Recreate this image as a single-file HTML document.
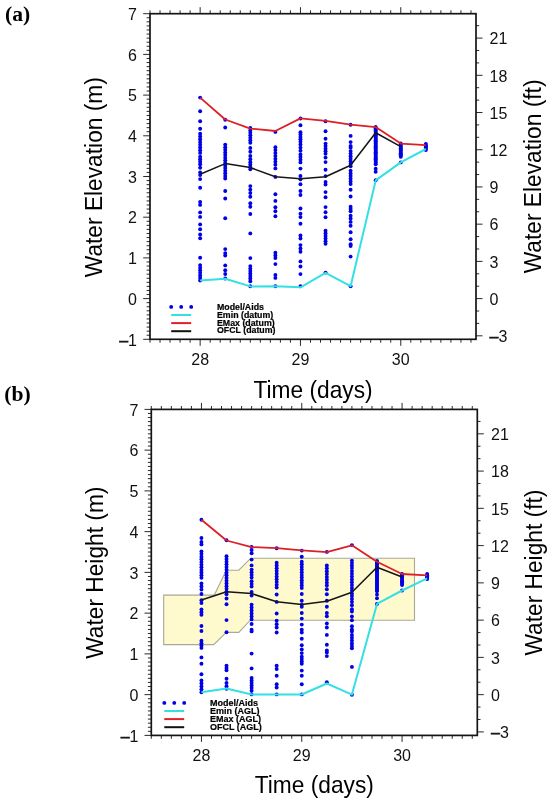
<!DOCTYPE html>
<html><head><meta charset="utf-8"><title>Water Elevation and Height</title>
<style>html,body{margin:0;padding:0;background:#fff;}svg{display:block;}</style></head>
<body><svg width="550" height="803" viewBox="0 0 550 803">
<rect width="550" height="803" fill="#fff"/>
<path d="M150 339.3h-6.8 M150 335.23h-3.4 M150 331.16h-3.4 M150 327.09h-3.4 M150 323.02h-3.4 M150 318.95h-3.4 M150 314.88h-3.4 M150 310.81h-3.4 M150 306.74h-3.4 M150 302.67h-3.4 M150 298.6h-6.8 M150 294.53h-3.4 M150 290.46h-3.4 M150 286.39h-3.4 M150 282.32h-3.4 M150 278.25h-3.4 M150 274.18h-3.4 M150 270.11h-3.4 M150 266.04h-3.4 M150 261.97h-3.4 M150 257.9h-6.8 M150 253.83h-3.4 M150 249.76h-3.4 M150 245.69h-3.4 M150 241.62h-3.4 M150 237.55h-3.4 M150 233.48h-3.4 M150 229.41h-3.4 M150 225.34h-3.4 M150 221.27h-3.4 M150 217.2h-6.8 M150 213.13h-3.4 M150 209.06h-3.4 M150 204.99h-3.4 M150 200.92h-3.4 M150 196.85h-3.4 M150 192.78h-3.4 M150 188.71h-3.4 M150 184.64h-3.4 M150 180.57h-3.4 M150 176.5h-6.8 M150 172.43h-3.4 M150 168.36h-3.4 M150 164.29h-3.4 M150 160.22h-3.4 M150 156.15h-3.4 M150 152.08h-3.4 M150 148.01h-3.4 M150 143.94h-3.4 M150 139.87h-3.4 M150 135.8h-6.8 M150 131.73h-3.4 M150 127.66h-3.4 M150 123.59h-3.4 M150 119.52h-3.4 M150 115.45h-3.4 M150 111.38h-3.4 M150 107.31h-3.4 M150 103.24h-3.4 M150 99.17h-3.4 M150 95.1h-6.8 M150 91.03h-3.4 M150 86.96h-3.4 M150 82.89h-3.4 M150 78.82h-3.4 M150 74.75h-3.4 M150 70.68h-3.4 M150 66.61h-3.4 M150 62.54h-3.4 M150 58.47h-3.4 M150 54.4h-6.8 M150 50.33h-3.4 M150 46.26h-3.4 M150 42.19h-3.4 M150 38.12h-3.4 M150 34.05h-3.4 M150 29.98h-3.4 M150 25.91h-3.4 M150 21.84h-3.4 M150 17.77h-3.4 M150 13.7h-6.8 M476 335.82h6.5 M476 323.41h3.2 M476 311.01h3.2 M476 298.6h6.5 M476 286.19h3.2 M476 273.79h3.2 M476 261.38h6.5 M476 248.98h3.2 M476 236.57h3.2 M476 224.17h6.5 M476 211.76h3.2 M476 199.36h3.2 M476 186.95h6.5 M476 174.55h3.2 M476 162.14h3.2 M476 149.74h6.5 M476 137.33h3.2 M476 124.92h3.2 M476 112.52h6.5 M476 100.11h3.2 M476 87.71h3.2 M476 75.3h6.5 M476 62.9h3.2 M476 50.49h3.2 M476 38.09h6.5 M476 25.68h3.2 M150 339.3v3.4 M150 13.7v-3.4 M160.03 339.3v3.4 M160.03 13.7v-3.4 M170.06 339.3v3.4 M170.06 13.7v-3.4 M180.09 339.3v3.4 M180.09 13.7v-3.4 M190.12 339.3v3.4 M190.12 13.7v-3.4 M200.15 339.3v6.5 M200.15 13.7v-6.5 M210.18 339.3v3.4 M210.18 13.7v-3.4 M220.22 339.3v3.4 M220.22 13.7v-3.4 M230.25 339.3v3.4 M230.25 13.7v-3.4 M240.28 339.3v3.4 M240.28 13.7v-3.4 M250.31 339.3v3.4 M250.31 13.7v-3.4 M260.34 339.3v3.4 M260.34 13.7v-3.4 M270.37 339.3v3.4 M270.37 13.7v-3.4 M280.4 339.3v3.4 M280.4 13.7v-3.4 M290.43 339.3v3.4 M290.43 13.7v-3.4 M300.46 339.3v6.5 M300.46 13.7v-6.5 M310.49 339.3v3.4 M310.49 13.7v-3.4 M320.52 339.3v3.4 M320.52 13.7v-3.4 M330.55 339.3v3.4 M330.55 13.7v-3.4 M340.58 339.3v3.4 M340.58 13.7v-3.4 M350.62 339.3v3.4 M350.62 13.7v-3.4 M360.65 339.3v3.4 M360.65 13.7v-3.4 M370.68 339.3v3.4 M370.68 13.7v-3.4 M380.71 339.3v3.4 M380.71 13.7v-3.4 M390.74 339.3v3.4 M390.74 13.7v-3.4 M400.77 339.3v6.5 M400.77 13.7v-6.5 M410.8 339.3v3.4 M410.8 13.7v-3.4 M420.83 339.3v3.4 M420.83 13.7v-3.4 M430.86 339.3v3.4 M430.86 13.7v-3.4 M440.89 339.3v3.4 M440.89 13.7v-3.4 M450.92 339.3v3.4 M450.92 13.7v-3.4 M460.95 339.3v3.4 M460.95 13.7v-3.4 M470.98 339.3v3.4 M470.98 13.7v-3.4" stroke="#2a2a2a" stroke-width="1.0" fill="none"/>
<g font-family='"Liberation Sans", Arial, Helvetica, sans-serif' font-size="16" fill="#111"><text x="137" y="345.5" text-anchor="end"><tspan stroke="#111" stroke-width="0.5">–</tspan>1</text><text x="137" y="304.8" text-anchor="end">0</text><text x="137" y="264.1" text-anchor="end">1</text><text x="137" y="223.4" text-anchor="end">2</text><text x="137" y="182.7" text-anchor="end">3</text><text x="137" y="142" text-anchor="end">4</text><text x="137" y="101.3" text-anchor="end">5</text><text x="137" y="60.6" text-anchor="end">6</text><text x="137" y="19.9" text-anchor="end">7</text><text x="489.6" y="342.02"><tspan stroke="#111" stroke-width="0.5">–</tspan>3</text><text x="489.6" y="304.8">0</text><text x="489.6" y="267.58">3</text><text x="489.6" y="230.37">6</text><text x="489.6" y="193.15">9</text><text x="489.6" y="155.94">12</text><text x="489.6" y="118.72">15</text><text x="489.6" y="81.5">18</text><text x="489.6" y="44.29">21</text><text x="200.15" y="364.5" text-anchor="middle">28</text><text x="300.46" y="364.5" text-anchor="middle">29</text><text x="400.77" y="364.5" text-anchor="middle">30</text></g>
<g font-family='"Liberation Sans", Arial, Helvetica, sans-serif' font-size="22.75" fill="#000"><text transform="translate(313 397.5) scale(1 1.055)" text-anchor="middle">Time (days)</text><text transform="translate(102.3 177.2) rotate(-90) scale(1 1.055)" text-anchor="middle">Water Elevation (m)</text><text transform="translate(540.6 176.4) rotate(-90) scale(1 1.055)" text-anchor="middle">Water Elevation (ft)</text></g>
<text x="5" y="20.9" font-family='"Liberation Serif", "Times New Roman", serif' font-weight="bold" font-size="21.6" fill="#000">(a)</text>
<g fill="#0000E6"><circle cx="200.15" cy="97.6" r="1.95"/><circle cx="200.15" cy="111.2" r="1.95"/><circle cx="200.15" cy="121.2" r="1.95"/><circle cx="200.15" cy="128.7" r="1.95"/><circle cx="200.15" cy="133.7" r="1.95"/><circle cx="200.15" cy="136.44" r="1.95"/><circle cx="200.15" cy="139.19" r="1.95"/><circle cx="200.15" cy="141.93" r="1.95"/><circle cx="200.15" cy="144.67" r="1.95"/><circle cx="200.15" cy="147.41" r="1.95"/><circle cx="200.15" cy="150.16" r="1.95"/><circle cx="200.15" cy="152.9" r="1.95"/><circle cx="200.15" cy="156.8" r="1.95"/><circle cx="200.15" cy="159.27" r="1.95"/><circle cx="200.15" cy="161.73" r="1.95"/><circle cx="200.15" cy="164.2" r="1.95"/><circle cx="200.15" cy="167.7" r="1.95"/><circle cx="200.15" cy="172.5" r="1.95"/><circle cx="200.15" cy="175.1" r="1.95"/><circle cx="200.15" cy="179.1" r="1.95"/><circle cx="200.15" cy="187.8" r="1.95"/><circle cx="200.15" cy="202" r="1.95"/><circle cx="200.15" cy="204.9" r="1.95"/><circle cx="200.15" cy="212.4" r="1.95"/><circle cx="200.15" cy="216.9" r="1.95"/><circle cx="200.15" cy="224.4" r="1.95"/><circle cx="200.15" cy="229.2" r="1.95"/><circle cx="200.15" cy="234.5" r="1.95"/><circle cx="200.15" cy="238.2" r="1.95"/><circle cx="200.15" cy="257.8" r="1.95"/><circle cx="200.15" cy="265.1" r="1.95"/><circle cx="200.15" cy="267.68" r="1.95"/><circle cx="200.15" cy="270.27" r="1.95"/><circle cx="200.15" cy="272.85" r="1.95"/><circle cx="200.15" cy="275.43" r="1.95"/><circle cx="200.15" cy="278.02" r="1.95"/><circle cx="200.15" cy="280.6" r="1.95"/><circle cx="225.23" cy="119.8" r="1.95"/><circle cx="225.23" cy="127.5" r="1.95"/><circle cx="225.23" cy="144.6" r="1.95"/><circle cx="225.23" cy="147.21" r="1.95"/><circle cx="225.23" cy="149.82" r="1.95"/><circle cx="225.23" cy="152.42" r="1.95"/><circle cx="225.23" cy="155.03" r="1.95"/><circle cx="225.23" cy="157.64" r="1.95"/><circle cx="225.23" cy="160.25" r="1.95"/><circle cx="225.23" cy="162.85" r="1.95"/><circle cx="225.23" cy="165.46" r="1.95"/><circle cx="225.23" cy="168.07" r="1.95"/><circle cx="225.23" cy="170.68" r="1.95"/><circle cx="225.23" cy="173.28" r="1.95"/><circle cx="225.23" cy="175.89" r="1.95"/><circle cx="225.23" cy="178.5" r="1.95"/><circle cx="225.23" cy="191" r="1.95"/><circle cx="225.23" cy="198.5" r="1.95"/><circle cx="225.23" cy="218.3" r="1.95"/><circle cx="225.23" cy="249.1" r="1.95"/><circle cx="225.23" cy="253.1" r="1.95"/><circle cx="225.23" cy="255.5" r="1.95"/><circle cx="225.23" cy="265.4" r="1.95"/><circle cx="225.23" cy="270.3" r="1.95"/><circle cx="225.23" cy="274" r="1.95"/><circle cx="225.23" cy="278.5" r="1.95"/><circle cx="250.31" cy="127.9" r="1.95"/><circle cx="250.31" cy="130.38" r="1.95"/><circle cx="250.31" cy="132.87" r="1.95"/><circle cx="250.31" cy="135.35" r="1.95"/><circle cx="250.31" cy="137.83" r="1.95"/><circle cx="250.31" cy="140.32" r="1.95"/><circle cx="250.31" cy="142.8" r="1.95"/><circle cx="250.31" cy="148" r="1.95"/><circle cx="250.31" cy="151.7" r="1.95"/><circle cx="250.31" cy="156" r="1.95"/><circle cx="250.31" cy="159.2" r="1.95"/><circle cx="250.31" cy="162.3" r="1.95"/><circle cx="250.31" cy="164.6" r="1.95"/><circle cx="250.31" cy="166.9" r="1.95"/><circle cx="250.31" cy="169.2" r="1.95"/><circle cx="250.31" cy="186.1" r="1.95"/><circle cx="250.31" cy="189.6" r="1.95"/><circle cx="250.31" cy="193" r="1.95"/><circle cx="250.31" cy="196.7" r="1.95"/><circle cx="250.31" cy="203.2" r="1.95"/><circle cx="250.31" cy="206.7" r="1.95"/><circle cx="250.31" cy="214" r="1.95"/><circle cx="250.31" cy="233.4" r="1.95"/><circle cx="250.31" cy="258.1" r="1.95"/><circle cx="250.31" cy="266.1" r="1.95"/><circle cx="250.31" cy="268.58" r="1.95"/><circle cx="250.31" cy="271.06" r="1.95"/><circle cx="250.31" cy="273.54" r="1.95"/><circle cx="250.31" cy="276.02" r="1.95"/><circle cx="250.31" cy="278.5" r="1.95"/><circle cx="250.31" cy="281.3" r="1.95"/><circle cx="250.31" cy="286.3" r="1.95"/><circle cx="275.38" cy="131.9" r="1.95"/><circle cx="275.38" cy="147.2" r="1.95"/><circle cx="275.38" cy="150.12" r="1.95"/><circle cx="275.38" cy="153.03" r="1.95"/><circle cx="275.38" cy="155.95" r="1.95"/><circle cx="275.38" cy="158.87" r="1.95"/><circle cx="275.38" cy="161.78" r="1.95"/><circle cx="275.38" cy="164.7" r="1.95"/><circle cx="275.38" cy="168.4" r="1.95"/><circle cx="275.38" cy="176.9" r="1.95"/><circle cx="275.38" cy="194.3" r="1.95"/><circle cx="275.38" cy="200.9" r="1.95"/><circle cx="275.38" cy="207.2" r="1.95"/><circle cx="275.38" cy="211.2" r="1.95"/><circle cx="275.38" cy="216.3" r="1.95"/><circle cx="275.38" cy="252.7" r="1.95"/><circle cx="275.38" cy="255.5" r="1.95"/><circle cx="275.38" cy="258.1" r="1.95"/><circle cx="275.38" cy="264.1" r="1.95"/><circle cx="275.38" cy="274.9" r="1.95"/><circle cx="275.38" cy="277.9" r="1.95"/><circle cx="275.38" cy="286.3" r="1.95"/><circle cx="300.46" cy="118.5" r="1.95"/><circle cx="300.46" cy="125.2" r="1.95"/><circle cx="300.46" cy="132.2" r="1.95"/><circle cx="300.46" cy="134.57" r="1.95"/><circle cx="300.46" cy="136.95" r="1.95"/><circle cx="300.46" cy="139.32" r="1.95"/><circle cx="300.46" cy="141.7" r="1.95"/><circle cx="300.46" cy="144.5" r="1.95"/><circle cx="300.46" cy="147.6" r="1.95"/><circle cx="300.46" cy="150.7" r="1.95"/><circle cx="300.46" cy="154.4" r="1.95"/><circle cx="300.46" cy="157.07" r="1.95"/><circle cx="300.46" cy="159.73" r="1.95"/><circle cx="300.46" cy="162.4" r="1.95"/><circle cx="300.46" cy="168.6" r="1.95"/><circle cx="300.46" cy="175.9" r="1.95"/><circle cx="300.46" cy="179.3" r="1.95"/><circle cx="300.46" cy="184.3" r="1.95"/><circle cx="300.46" cy="191" r="1.95"/><circle cx="300.46" cy="195" r="1.95"/><circle cx="300.46" cy="208.5" r="1.95"/><circle cx="300.46" cy="213.7" r="1.95"/><circle cx="300.46" cy="217.1" r="1.95"/><circle cx="300.46" cy="223.7" r="1.95"/><circle cx="300.46" cy="235.5" r="1.95"/><circle cx="300.46" cy="238.5" r="1.95"/><circle cx="300.46" cy="245.1" r="1.95"/><circle cx="300.46" cy="248.45" r="1.95"/><circle cx="300.46" cy="251.8" r="1.95"/><circle cx="300.46" cy="261.4" r="1.95"/><circle cx="300.46" cy="266.5" r="1.95"/><circle cx="300.46" cy="274.1" r="1.95"/><circle cx="300.46" cy="286.2" r="1.95"/><circle cx="325.54" cy="121.2" r="1.95"/><circle cx="325.54" cy="131.3" r="1.95"/><circle cx="325.54" cy="138.8" r="1.95"/><circle cx="325.54" cy="143.6" r="1.95"/><circle cx="325.54" cy="146.12" r="1.95"/><circle cx="325.54" cy="148.65" r="1.95"/><circle cx="325.54" cy="151.17" r="1.95"/><circle cx="325.54" cy="153.7" r="1.95"/><circle cx="325.54" cy="157.6" r="1.95"/><circle cx="325.54" cy="162.1" r="1.95"/><circle cx="325.54" cy="169.7" r="1.95"/><circle cx="325.54" cy="176.1" r="1.95"/><circle cx="325.54" cy="182" r="1.95"/><circle cx="325.54" cy="184.5" r="1.95"/><circle cx="325.54" cy="192.1" r="1.95"/><circle cx="325.54" cy="197.3" r="1.95"/><circle cx="325.54" cy="207.1" r="1.95"/><circle cx="325.54" cy="212.2" r="1.95"/><circle cx="325.54" cy="217.2" r="1.95"/><circle cx="325.54" cy="230.7" r="1.95"/><circle cx="325.54" cy="233.32" r="1.95"/><circle cx="325.54" cy="235.94" r="1.95"/><circle cx="325.54" cy="238.56" r="1.95"/><circle cx="325.54" cy="241.18" r="1.95"/><circle cx="325.54" cy="243.8" r="1.95"/><circle cx="325.54" cy="272.6" r="1.95"/><circle cx="350.62" cy="124.7" r="1.95"/><circle cx="350.62" cy="135.9" r="1.95"/><circle cx="350.62" cy="142.1" r="1.95"/><circle cx="350.62" cy="146" r="1.95"/><circle cx="350.62" cy="147.7" r="1.95"/><circle cx="350.62" cy="151.1" r="1.95"/><circle cx="350.62" cy="153.62" r="1.95"/><circle cx="350.62" cy="156.13" r="1.95"/><circle cx="350.62" cy="158.65" r="1.95"/><circle cx="350.62" cy="161.17" r="1.95"/><circle cx="350.62" cy="163.68" r="1.95"/><circle cx="350.62" cy="166.2" r="1.95"/><circle cx="350.62" cy="170.7" r="1.95"/><circle cx="350.62" cy="173.38" r="1.95"/><circle cx="350.62" cy="176.06" r="1.95"/><circle cx="350.62" cy="178.74" r="1.95"/><circle cx="350.62" cy="181.42" r="1.95"/><circle cx="350.62" cy="184.1" r="1.95"/><circle cx="350.62" cy="189.7" r="1.95"/><circle cx="350.62" cy="196.5" r="1.95"/><circle cx="350.62" cy="206.7" r="1.95"/><circle cx="350.62" cy="208.95" r="1.95"/><circle cx="350.62" cy="211.2" r="1.95"/><circle cx="350.62" cy="215.7" r="1.95"/><circle cx="350.62" cy="218.5" r="1.95"/><circle cx="350.62" cy="221.9" r="1.95"/><circle cx="350.62" cy="225.8" r="1.95"/><circle cx="350.62" cy="232.3" r="1.95"/><circle cx="350.62" cy="239.2" r="1.95"/><circle cx="350.62" cy="244.3" r="1.95"/><circle cx="350.62" cy="246" r="1.95"/><circle cx="350.62" cy="256.6" r="1.95"/><circle cx="350.62" cy="286.3" r="1.95"/><circle cx="375.69" cy="127" r="1.95"/><circle cx="375.69" cy="128.2" r="1.95"/><circle cx="375.69" cy="129.41" r="1.95"/><circle cx="375.69" cy="130.61" r="1.95"/><circle cx="375.69" cy="131.81" r="1.95"/><circle cx="375.69" cy="133.02" r="1.95"/><circle cx="375.69" cy="134.22" r="1.95"/><circle cx="375.69" cy="135.42" r="1.95"/><circle cx="375.69" cy="136.63" r="1.95"/><circle cx="375.69" cy="137.83" r="1.95"/><circle cx="375.69" cy="139.03" r="1.95"/><circle cx="375.69" cy="140.24" r="1.95"/><circle cx="375.69" cy="141.44" r="1.95"/><circle cx="375.69" cy="142.64" r="1.95"/><circle cx="375.69" cy="143.85" r="1.95"/><circle cx="375.69" cy="145.05" r="1.95"/><circle cx="375.69" cy="146.25" r="1.95"/><circle cx="375.69" cy="147.45" r="1.95"/><circle cx="375.69" cy="148.66" r="1.95"/><circle cx="375.69" cy="149.86" r="1.95"/><circle cx="375.69" cy="151.06" r="1.95"/><circle cx="375.69" cy="152.27" r="1.95"/><circle cx="375.69" cy="153.47" r="1.95"/><circle cx="375.69" cy="154.67" r="1.95"/><circle cx="375.69" cy="155.88" r="1.95"/><circle cx="375.69" cy="157.08" r="1.95"/><circle cx="375.69" cy="158.28" r="1.95"/><circle cx="375.69" cy="159.49" r="1.95"/><circle cx="375.69" cy="160.69" r="1.95"/><circle cx="375.69" cy="161.89" r="1.95"/><circle cx="375.69" cy="163.1" r="1.95"/><circle cx="375.69" cy="164.3" r="1.95"/><circle cx="375.69" cy="168.8" r="1.95"/><circle cx="375.69" cy="171.8" r="1.95"/><circle cx="375.69" cy="180.3" r="1.95"/><circle cx="400.77" cy="143.4" r="1.95"/><circle cx="400.77" cy="144.62" r="1.95"/><circle cx="400.77" cy="145.84" r="1.95"/><circle cx="400.77" cy="147.05" r="1.95"/><circle cx="400.77" cy="148.27" r="1.95"/><circle cx="400.77" cy="149.49" r="1.95"/><circle cx="400.77" cy="150.71" r="1.95"/><circle cx="400.77" cy="151.93" r="1.95"/><circle cx="400.77" cy="153.15" r="1.95"/><circle cx="400.77" cy="154.36" r="1.95"/><circle cx="400.77" cy="155.58" r="1.95"/><circle cx="400.77" cy="156.8" r="1.95"/><circle cx="400.77" cy="162.4" r="1.95"/><circle cx="425.85" cy="144" r="1.95"/><circle cx="425.85" cy="145.2" r="1.95"/><circle cx="425.85" cy="146.4" r="1.95"/><circle cx="425.85" cy="147.6" r="1.95"/><circle cx="425.85" cy="148.8" r="1.95"/><circle cx="425.85" cy="150" r="1.95"/></g>
<polyline points="200.15,280.4 225.23,278.7 250.31,286.4 275.38,286.3 300.46,287.3 325.54,272.9 350.62,286.2 375.69,180.4 400.77,162.4 425.85,149" fill="none" stroke="#33E0E4" stroke-width="2.0" stroke-linejoin="round"/>
<polyline points="200.15,97.6 225.23,119.5 250.31,128.6 275.38,131 300.46,118.4 325.54,120.9 350.62,124.7 375.69,127.1 400.77,143.6 425.85,145.2" fill="none" stroke="#DC2026" stroke-width="1.8" stroke-linejoin="round"/>
<polyline points="200.15,174.2 225.23,163.6 250.31,167.6 275.38,176.8 300.46,178.8 325.54,176.8 350.62,165.3 375.69,132.8 400.77,146.6" fill="none" stroke="#161616" stroke-width="1.55" stroke-linejoin="round"/>
<rect x="150" y="13.7" width="326" height="325.6" fill="none" stroke="#151515" stroke-width="1.7"/>
<g fill="#0000E6"><circle cx="171.2" cy="306.9" r="1.95"/><circle cx="181.2" cy="306.9" r="1.95"/><circle cx="191.2" cy="306.9" r="1.95"/></g>
<path d="M171.2 315h20" stroke="#33E0E4" stroke-width="2"/>
<path d="M171.2 323.1h20" stroke="#E0202A" stroke-width="2"/>
<path d="M171.2 331.2h20" stroke="#111111" stroke-width="2"/>
<g font-family='"Liberation Sans", Arial, Helvetica, sans-serif' font-weight="bold" font-size="8.8" fill="#000" stroke="#000" stroke-width="0.2"><text x="217" y="310.2">Model/Aids</text><text x="217" y="317.95">Emin (datum)</text><text x="217" y="325.7">EMax (datum)</text><text x="217" y="333.45">OFCL (datum)</text></g>
<polygon points="163.7,595.1 214.3,595.1 226.3,570.2 238.8,570.2 250.8,558.2 414.5,558.2 414.5,620.2 250.3,620.2 238.8,632.4 226.3,632.4 213.7,644.6 163.7,644.6" fill="#FFFACD" stroke="#A8A898" stroke-width="1.1"/>
<path d="M151.3 735.4h-6.8 M151.3 731.33h-3.4 M151.3 727.25h-3.4 M151.3 723.17h-3.4 M151.3 719.1h-3.4 M151.3 715.02h-3.4 M151.3 710.95h-3.4 M151.3 706.88h-3.4 M151.3 702.8h-3.4 M151.3 698.72h-3.4 M151.3 694.65h-6.8 M151.3 690.58h-3.4 M151.3 686.5h-3.4 M151.3 682.42h-3.4 M151.3 678.35h-3.4 M151.3 674.27h-3.4 M151.3 670.2h-3.4 M151.3 666.12h-3.4 M151.3 662.05h-3.4 M151.3 657.97h-3.4 M151.3 653.9h-6.8 M151.3 649.83h-3.4 M151.3 645.75h-3.4 M151.3 641.67h-3.4 M151.3 637.6h-3.4 M151.3 633.52h-3.4 M151.3 629.45h-3.4 M151.3 625.38h-3.4 M151.3 621.3h-3.4 M151.3 617.22h-3.4 M151.3 613.15h-6.8 M151.3 609.08h-3.4 M151.3 605h-3.4 M151.3 600.92h-3.4 M151.3 596.85h-3.4 M151.3 592.77h-3.4 M151.3 588.7h-3.4 M151.3 584.62h-3.4 M151.3 580.55h-3.4 M151.3 576.47h-3.4 M151.3 572.4h-6.8 M151.3 568.32h-3.4 M151.3 564.25h-3.4 M151.3 560.17h-3.4 M151.3 556.1h-3.4 M151.3 552.02h-3.4 M151.3 547.95h-3.4 M151.3 543.88h-3.4 M151.3 539.8h-3.4 M151.3 535.72h-3.4 M151.3 531.65h-6.8 M151.3 527.57h-3.4 M151.3 523.5h-3.4 M151.3 519.42h-3.4 M151.3 515.35h-3.4 M151.3 511.27h-3.4 M151.3 507.2h-3.4 M151.3 503.12h-3.4 M151.3 499.05h-3.4 M151.3 494.97h-3.4 M151.3 490.9h-6.8 M151.3 486.82h-3.4 M151.3 482.75h-3.4 M151.3 478.67h-3.4 M151.3 474.6h-3.4 M151.3 470.52h-3.4 M151.3 466.45h-3.4 M151.3 462.38h-3.4 M151.3 458.3h-3.4 M151.3 454.22h-3.4 M151.3 450.15h-6.8 M151.3 446.07h-3.4 M151.3 442h-3.4 M151.3 437.92h-3.4 M151.3 433.85h-3.4 M151.3 429.77h-3.4 M151.3 425.7h-3.4 M151.3 421.62h-3.4 M151.3 417.55h-3.4 M151.3 413.47h-3.4 M151.3 409.4h-6.8 M477.3 731.91h6.5 M477.3 719.49h3.2 M477.3 707.07h3.2 M477.3 694.65h6.5 M477.3 682.23h3.2 M477.3 669.81h3.2 M477.3 657.39h6.5 M477.3 644.97h3.2 M477.3 632.55h3.2 M477.3 620.13h6.5 M477.3 607.71h3.2 M477.3 595.29h3.2 M477.3 582.86h6.5 M477.3 570.44h3.2 M477.3 558.02h3.2 M477.3 545.6h6.5 M477.3 533.18h3.2 M477.3 520.76h3.2 M477.3 508.34h6.5 M477.3 495.92h3.2 M477.3 483.5h3.2 M477.3 471.08h6.5 M477.3 458.66h3.2 M477.3 446.24h3.2 M477.3 433.82h6.5 M477.3 421.4h3.2 M151.3 735.4v3.4 M151.3 409.4v-3.4 M161.33 735.4v3.4 M161.33 409.4v-3.4 M171.36 735.4v3.4 M171.36 409.4v-3.4 M181.39 735.4v3.4 M181.39 409.4v-3.4 M191.42 735.4v3.4 M191.42 409.4v-3.4 M201.45 735.4v6.5 M201.45 409.4v-6.5 M211.48 735.4v3.4 M211.48 409.4v-3.4 M221.52 735.4v3.4 M221.52 409.4v-3.4 M231.55 735.4v3.4 M231.55 409.4v-3.4 M241.58 735.4v3.4 M241.58 409.4v-3.4 M251.61 735.4v3.4 M251.61 409.4v-3.4 M261.64 735.4v3.4 M261.64 409.4v-3.4 M271.67 735.4v3.4 M271.67 409.4v-3.4 M281.7 735.4v3.4 M281.7 409.4v-3.4 M291.73 735.4v3.4 M291.73 409.4v-3.4 M301.76 735.4v6.5 M301.76 409.4v-6.5 M311.79 735.4v3.4 M311.79 409.4v-3.4 M321.82 735.4v3.4 M321.82 409.4v-3.4 M331.85 735.4v3.4 M331.85 409.4v-3.4 M341.88 735.4v3.4 M341.88 409.4v-3.4 M351.92 735.4v3.4 M351.92 409.4v-3.4 M361.95 735.4v3.4 M361.95 409.4v-3.4 M371.98 735.4v3.4 M371.98 409.4v-3.4 M382.01 735.4v3.4 M382.01 409.4v-3.4 M392.04 735.4v3.4 M392.04 409.4v-3.4 M402.07 735.4v6.5 M402.07 409.4v-6.5 M412.1 735.4v3.4 M412.1 409.4v-3.4 M422.13 735.4v3.4 M422.13 409.4v-3.4 M432.16 735.4v3.4 M432.16 409.4v-3.4 M442.19 735.4v3.4 M442.19 409.4v-3.4 M452.22 735.4v3.4 M452.22 409.4v-3.4 M462.25 735.4v3.4 M462.25 409.4v-3.4 M472.28 735.4v3.4 M472.28 409.4v-3.4" stroke="#2a2a2a" stroke-width="1.0" fill="none"/>
<g font-family='"Liberation Sans", Arial, Helvetica, sans-serif' font-size="16" fill="#111"><text x="138.5" y="741.6" text-anchor="end"><tspan stroke="#111" stroke-width="0.5">–</tspan>1</text><text x="138.5" y="700.85" text-anchor="end">0</text><text x="138.5" y="660.1" text-anchor="end">1</text><text x="138.5" y="619.35" text-anchor="end">2</text><text x="138.5" y="578.6" text-anchor="end">3</text><text x="138.5" y="537.85" text-anchor="end">4</text><text x="138.5" y="497.1" text-anchor="end">5</text><text x="138.5" y="456.35" text-anchor="end">6</text><text x="138.5" y="415.6" text-anchor="end">7</text><text x="491" y="738.11"><tspan stroke="#111" stroke-width="0.5">–</tspan>3</text><text x="491" y="700.85">0</text><text x="491" y="663.59">3</text><text x="491" y="626.33">6</text><text x="491" y="589.06">9</text><text x="491" y="551.8">12</text><text x="491" y="514.54">15</text><text x="491" y="477.28">18</text><text x="491" y="440.02">21</text><text x="201.45" y="760.6" text-anchor="middle">28</text><text x="301.76" y="760.6" text-anchor="middle">29</text><text x="402.07" y="760.6" text-anchor="middle">30</text></g>
<g font-family='"Liberation Sans", Arial, Helvetica, sans-serif' font-size="22.75" fill="#000"><text transform="translate(314.3 793.2) scale(1 1.055)" text-anchor="middle">Time (days)</text><text transform="translate(103.1 572.7) rotate(-90) scale(1 1.055)" text-anchor="middle">Water Height (m)</text><text transform="translate(542.4 572.6) rotate(-90) scale(1 1.055)" text-anchor="middle">Water Height (ft)</text></g>
<text x="4.2" y="401.3" font-family='"Liberation Serif", "Times New Roman", serif' font-weight="bold" font-size="21.6" fill="#000">(b)</text>
<g fill="#0000E6"><circle cx="201.45" cy="519.7" r="1.95"/><circle cx="201.45" cy="538" r="1.95"/><circle cx="201.45" cy="541.9" r="1.95"/><circle cx="201.45" cy="544.4" r="1.95"/><circle cx="201.45" cy="551.4" r="1.95"/><circle cx="201.45" cy="554.04" r="1.95"/><circle cx="201.45" cy="556.68" r="1.95"/><circle cx="201.45" cy="559.32" r="1.95"/><circle cx="201.45" cy="561.96" r="1.95"/><circle cx="201.45" cy="564.6" r="1.95"/><circle cx="201.45" cy="567.24" r="1.95"/><circle cx="201.45" cy="569.88" r="1.95"/><circle cx="201.45" cy="572.52" r="1.95"/><circle cx="201.45" cy="575.16" r="1.95"/><circle cx="201.45" cy="577.8" r="1.95"/><circle cx="201.45" cy="583.4" r="1.95"/><circle cx="201.45" cy="586.5" r="1.95"/><circle cx="201.45" cy="589.6" r="1.95"/><circle cx="201.45" cy="594" r="1.95"/><circle cx="201.45" cy="600.2" r="1.95"/><circle cx="201.45" cy="603" r="1.95"/><circle cx="201.45" cy="609.5" r="1.95"/><circle cx="201.45" cy="612.15" r="1.95"/><circle cx="201.45" cy="614.8" r="1.95"/><circle cx="201.45" cy="626" r="1.95"/><circle cx="201.45" cy="631" r="1.95"/><circle cx="201.45" cy="640.8" r="1.95"/><circle cx="201.45" cy="643.17" r="1.95"/><circle cx="201.45" cy="645.53" r="1.95"/><circle cx="201.45" cy="647.9" r="1.95"/><circle cx="201.45" cy="657.4" r="1.95"/><circle cx="201.45" cy="663.7" r="1.95"/><circle cx="201.45" cy="674.3" r="1.95"/><circle cx="201.45" cy="680.5" r="1.95"/><circle cx="201.45" cy="683.45" r="1.95"/><circle cx="201.45" cy="686.4" r="1.95"/><circle cx="201.45" cy="689.35" r="1.95"/><circle cx="201.45" cy="692.3" r="1.95"/><circle cx="226.53" cy="540.3" r="1.95"/><circle cx="226.53" cy="556.2" r="1.95"/><circle cx="226.53" cy="558.92" r="1.95"/><circle cx="226.53" cy="561.64" r="1.95"/><circle cx="226.53" cy="564.36" r="1.95"/><circle cx="226.53" cy="567.09" r="1.95"/><circle cx="226.53" cy="569.81" r="1.95"/><circle cx="226.53" cy="572.53" r="1.95"/><circle cx="226.53" cy="575.25" r="1.95"/><circle cx="226.53" cy="577.97" r="1.95"/><circle cx="226.53" cy="580.69" r="1.95"/><circle cx="226.53" cy="583.41" r="1.95"/><circle cx="226.53" cy="586.14" r="1.95"/><circle cx="226.53" cy="588.86" r="1.95"/><circle cx="226.53" cy="591.58" r="1.95"/><circle cx="226.53" cy="594.3" r="1.95"/><circle cx="226.53" cy="598.5" r="1.95"/><circle cx="226.53" cy="604.3" r="1.95"/><circle cx="226.53" cy="620.1" r="1.95"/><circle cx="226.53" cy="632.2" r="1.95"/><circle cx="226.53" cy="665.6" r="1.95"/><circle cx="226.53" cy="668" r="1.95"/><circle cx="226.53" cy="670.3" r="1.95"/><circle cx="226.53" cy="678.8" r="1.95"/><circle cx="226.53" cy="683" r="1.95"/><circle cx="226.53" cy="686.2" r="1.95"/><circle cx="226.53" cy="688.8" r="1.95"/><circle cx="251.61" cy="546.9" r="1.95"/><circle cx="251.61" cy="550.1" r="1.95"/><circle cx="251.61" cy="553.2" r="1.95"/><circle cx="251.61" cy="559.6" r="1.95"/><circle cx="251.61" cy="565.4" r="1.95"/><circle cx="251.61" cy="569.6" r="1.95"/><circle cx="251.61" cy="572.25" r="1.95"/><circle cx="251.61" cy="574.9" r="1.95"/><circle cx="251.61" cy="577.6" r="1.95"/><circle cx="251.61" cy="581.3" r="1.95"/><circle cx="251.61" cy="583.95" r="1.95"/><circle cx="251.61" cy="586.6" r="1.95"/><circle cx="251.61" cy="591.9" r="1.95"/><circle cx="251.61" cy="595.6" r="1.95"/><circle cx="251.61" cy="604.6" r="1.95"/><circle cx="251.61" cy="607.56" r="1.95"/><circle cx="251.61" cy="610.52" r="1.95"/><circle cx="251.61" cy="613.48" r="1.95"/><circle cx="251.61" cy="616.44" r="1.95"/><circle cx="251.61" cy="619.4" r="1.95"/><circle cx="251.61" cy="624" r="1.95"/><circle cx="251.61" cy="629.8" r="1.95"/><circle cx="251.61" cy="631.4" r="1.95"/><circle cx="251.61" cy="653.6" r="1.95"/><circle cx="251.61" cy="668.4" r="1.95"/><circle cx="251.61" cy="678" r="1.95"/><circle cx="251.61" cy="680.5" r="1.95"/><circle cx="251.61" cy="683" r="1.95"/><circle cx="251.61" cy="685.5" r="1.95"/><circle cx="251.61" cy="688" r="1.95"/><circle cx="251.61" cy="690.7" r="1.95"/><circle cx="251.61" cy="694.4" r="1.95"/><circle cx="276.68" cy="548.3" r="1.95"/><circle cx="276.68" cy="562.8" r="1.95"/><circle cx="276.68" cy="565.56" r="1.95"/><circle cx="276.68" cy="568.31" r="1.95"/><circle cx="276.68" cy="571.07" r="1.95"/><circle cx="276.68" cy="573.82" r="1.95"/><circle cx="276.68" cy="576.58" r="1.95"/><circle cx="276.68" cy="579.33" r="1.95"/><circle cx="276.68" cy="582.09" r="1.95"/><circle cx="276.68" cy="584.84" r="1.95"/><circle cx="276.68" cy="587.6" r="1.95"/><circle cx="276.68" cy="594.5" r="1.95"/><circle cx="276.68" cy="601.9" r="1.95"/><circle cx="276.68" cy="613.5" r="1.95"/><circle cx="276.68" cy="620.8" r="1.95"/><circle cx="276.68" cy="624.15" r="1.95"/><circle cx="276.68" cy="627.5" r="1.95"/><circle cx="276.68" cy="632.5" r="1.95"/><circle cx="276.68" cy="665.8" r="1.95"/><circle cx="276.68" cy="669" r="1.95"/><circle cx="276.68" cy="675.8" r="1.95"/><circle cx="276.68" cy="684.3" r="1.95"/><circle cx="276.68" cy="687.5" r="1.95"/><circle cx="276.68" cy="694.4" r="1.95"/><circle cx="301.76" cy="550.6" r="1.95"/><circle cx="301.76" cy="556.7" r="1.95"/><circle cx="301.76" cy="561.7" r="1.95"/><circle cx="301.76" cy="564.34" r="1.95"/><circle cx="301.76" cy="566.98" r="1.95"/><circle cx="301.76" cy="569.62" r="1.95"/><circle cx="301.76" cy="572.26" r="1.95"/><circle cx="301.76" cy="574.9" r="1.95"/><circle cx="301.76" cy="577.54" r="1.95"/><circle cx="301.76" cy="580.18" r="1.95"/><circle cx="301.76" cy="582.82" r="1.95"/><circle cx="301.76" cy="585.46" r="1.95"/><circle cx="301.76" cy="588.1" r="1.95"/><circle cx="301.76" cy="594" r="1.95"/><circle cx="301.76" cy="600.8" r="1.95"/><circle cx="301.76" cy="604.6" r="1.95"/><circle cx="301.76" cy="606.7" r="1.95"/><circle cx="301.76" cy="613" r="1.95"/><circle cx="301.76" cy="618.6" r="1.95"/><circle cx="301.76" cy="624.6" r="1.95"/><circle cx="301.76" cy="629.8" r="1.95"/><circle cx="301.76" cy="632.5" r="1.95"/><circle cx="301.76" cy="638.8" r="1.95"/><circle cx="301.76" cy="645.2" r="1.95"/><circle cx="301.76" cy="649.4" r="1.95"/><circle cx="301.76" cy="653.1" r="1.95"/><circle cx="301.76" cy="656.8" r="1.95"/><circle cx="301.76" cy="659.1" r="1.95"/><circle cx="301.76" cy="661.4" r="1.95"/><circle cx="301.76" cy="663.7" r="1.95"/><circle cx="301.76" cy="670.6" r="1.95"/><circle cx="301.76" cy="675.8" r="1.95"/><circle cx="301.76" cy="684.3" r="1.95"/><circle cx="301.76" cy="694.4" r="1.95"/><circle cx="326.84" cy="551.9" r="1.95"/><circle cx="326.84" cy="565.4" r="1.95"/><circle cx="326.84" cy="568.27" r="1.95"/><circle cx="326.84" cy="571.14" r="1.95"/><circle cx="326.84" cy="574.01" r="1.95"/><circle cx="326.84" cy="576.89" r="1.95"/><circle cx="326.84" cy="579.76" r="1.95"/><circle cx="326.84" cy="582.63" r="1.95"/><circle cx="326.84" cy="585.5" r="1.95"/><circle cx="326.84" cy="589.2" r="1.95"/><circle cx="326.84" cy="594.2" r="1.95"/><circle cx="326.84" cy="600.8" r="1.95"/><circle cx="326.84" cy="606.7" r="1.95"/><circle cx="326.84" cy="613" r="1.95"/><circle cx="326.84" cy="616.2" r="1.95"/><circle cx="326.84" cy="623.5" r="1.95"/><circle cx="326.84" cy="627.5" r="1.95"/><circle cx="326.84" cy="634.9" r="1.95"/><circle cx="326.84" cy="644.8" r="1.95"/><circle cx="326.84" cy="650.5" r="1.95"/><circle cx="326.84" cy="652.5" r="1.95"/><circle cx="326.84" cy="656.1" r="1.95"/><circle cx="326.84" cy="682.2" r="1.95"/><circle cx="351.92" cy="545.1" r="1.95"/><circle cx="351.92" cy="560.6" r="1.95"/><circle cx="351.92" cy="563.1" r="1.95"/><circle cx="351.92" cy="565.6" r="1.95"/><circle cx="351.92" cy="568.1" r="1.95"/><circle cx="351.92" cy="570.9" r="1.95"/><circle cx="351.92" cy="573.74" r="1.95"/><circle cx="351.92" cy="576.58" r="1.95"/><circle cx="351.92" cy="579.41" r="1.95"/><circle cx="351.92" cy="582.25" r="1.95"/><circle cx="351.92" cy="585.09" r="1.95"/><circle cx="351.92" cy="587.92" r="1.95"/><circle cx="351.92" cy="590.76" r="1.95"/><circle cx="351.92" cy="593.6" r="1.95"/><circle cx="351.92" cy="596" r="1.95"/><circle cx="351.92" cy="599" r="1.95"/><circle cx="351.92" cy="602" r="1.95"/><circle cx="351.92" cy="605.3" r="1.95"/><circle cx="351.92" cy="609.3" r="1.95"/><circle cx="351.92" cy="611.5" r="1.95"/><circle cx="351.92" cy="616.5" r="1.95"/><circle cx="351.92" cy="620.2" r="1.95"/><circle cx="351.92" cy="626.2" r="1.95"/><circle cx="351.92" cy="629.5" r="1.95"/><circle cx="351.92" cy="631.5" r="1.95"/><circle cx="351.92" cy="634.9" r="1.95"/><circle cx="351.92" cy="637.7" r="1.95"/><circle cx="351.92" cy="640.5" r="1.95"/><circle cx="351.92" cy="643.5" r="1.95"/><circle cx="351.92" cy="646" r="1.95"/><circle cx="351.92" cy="648.2" r="1.95"/><circle cx="351.92" cy="666.9" r="1.95"/><circle cx="351.92" cy="694.8" r="1.95"/><circle cx="376.99" cy="561" r="1.95"/><circle cx="376.99" cy="562.21" r="1.95"/><circle cx="376.99" cy="563.42" r="1.95"/><circle cx="376.99" cy="564.62" r="1.95"/><circle cx="376.99" cy="565.83" r="1.95"/><circle cx="376.99" cy="567.04" r="1.95"/><circle cx="376.99" cy="568.25" r="1.95"/><circle cx="376.99" cy="569.46" r="1.95"/><circle cx="376.99" cy="570.66" r="1.95"/><circle cx="376.99" cy="571.87" r="1.95"/><circle cx="376.99" cy="573.08" r="1.95"/><circle cx="376.99" cy="574.29" r="1.95"/><circle cx="376.99" cy="575.5" r="1.95"/><circle cx="376.99" cy="576.7" r="1.95"/><circle cx="376.99" cy="577.91" r="1.95"/><circle cx="376.99" cy="579.12" r="1.95"/><circle cx="376.99" cy="580.33" r="1.95"/><circle cx="376.99" cy="581.54" r="1.95"/><circle cx="376.99" cy="582.74" r="1.95"/><circle cx="376.99" cy="583.95" r="1.95"/><circle cx="376.99" cy="585.16" r="1.95"/><circle cx="376.99" cy="586.37" r="1.95"/><circle cx="376.99" cy="587.58" r="1.95"/><circle cx="376.99" cy="588.78" r="1.95"/><circle cx="376.99" cy="589.99" r="1.95"/><circle cx="376.99" cy="591.2" r="1.95"/><circle cx="376.99" cy="594.6" r="1.95"/><circle cx="376.99" cy="598.3" r="1.95"/><circle cx="376.99" cy="604" r="1.95"/><circle cx="402.07" cy="574" r="1.95"/><circle cx="402.07" cy="575.22" r="1.95"/><circle cx="402.07" cy="576.44" r="1.95"/><circle cx="402.07" cy="577.67" r="1.95"/><circle cx="402.07" cy="578.89" r="1.95"/><circle cx="402.07" cy="580.11" r="1.95"/><circle cx="402.07" cy="581.33" r="1.95"/><circle cx="402.07" cy="582.56" r="1.95"/><circle cx="402.07" cy="583.78" r="1.95"/><circle cx="402.07" cy="585" r="1.95"/><circle cx="402.07" cy="590.5" r="1.95"/><circle cx="427.15" cy="574" r="1.95"/><circle cx="427.15" cy="575.25" r="1.95"/><circle cx="427.15" cy="576.5" r="1.95"/><circle cx="427.15" cy="577.75" r="1.95"/><circle cx="427.15" cy="579" r="1.95"/></g>
<polyline points="201.45,692.2 226.53,688.5 251.61,694.5 276.68,694.5 301.76,694.5 326.84,683.5 351.92,694.6 376.99,603.9 402.07,590.5 427.15,578.3" fill="none" stroke="#33E0E4" stroke-width="2.0" stroke-linejoin="round"/>
<polyline points="201.45,519.8 226.53,540.5 251.61,547.1 276.68,548.2 301.76,550.4 326.84,552.1 351.92,545.3 376.99,561.8 402.07,574 427.15,575.4" fill="none" stroke="#DC2026" stroke-width="1.8" stroke-linejoin="round"/>
<polyline points="201.45,600 226.53,591.8 251.61,593.6 276.68,601.7 301.76,604.5 326.84,601.2 351.92,592.3 376.99,567.2 402.07,577" fill="none" stroke="#161616" stroke-width="1.55" stroke-linejoin="round"/>
<rect x="151.3" y="409.4" width="326" height="326" fill="none" stroke="#151515" stroke-width="1.7"/>
<g fill="#0000E6"><circle cx="164.3" cy="702.9" r="1.95"/><circle cx="174.25" cy="702.9" r="1.95"/><circle cx="184.2" cy="702.9" r="1.95"/></g>
<path d="M164.3 711h19.9" stroke="#33E0E4" stroke-width="2"/>
<path d="M164.3 719.1h19.9" stroke="#E0202A" stroke-width="2"/>
<path d="M164.3 727.2h19.9" stroke="#111111" stroke-width="2"/>
<g font-family='"Liberation Sans", Arial, Helvetica, sans-serif' font-weight="bold" font-size="9.0" fill="#000" stroke="#000" stroke-width="0.2"><text x="210" y="706">Model/Aids</text><text x="210" y="713.95">Emin (AGL)</text><text x="210" y="721.9">EMax (AGL)</text><text x="210" y="729.85">OFCL (AGL)</text></g>
</svg></body></html>
